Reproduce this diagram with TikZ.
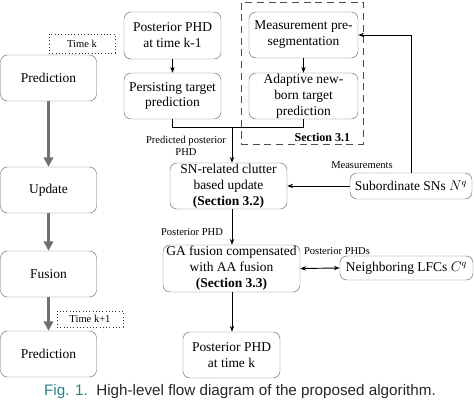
\documentclass[tikz,border=0pt]{standalone}
\usepackage{fontspec}
\setmainfont{Liberation Serif}
\newfontfamily\capfont{Liberation Sans}
\usetikzlibrary{arrows.meta, positioning, calc}
\definecolor{boxgray}{RGB}{105,105,105}
\definecolor{flowgray}{RGB}{112,112,112}
\definecolor{figteal}{RGB}{40,130,140}

\begin{document}
\begin{tikzpicture}[x=0.03cm, y=-0.03cm,
    box/.style={draw=boxgray, rounded corners=6pt, align=center, inner sep=0.5pt,
                font=\fontsize{11.5}{13.6}\selectfont},
    stagebox/.style={box, minimum width=2.88cm, minimum height=1.38cm},
    timebox/.style={draw=black!80, dotted, thick, minimum width=1.98cm, inner sep=1pt,
                    font=\fontsize{9}{10}\selectfont},
    secbox/.style={draw=black!70, thick, dash pattern=on 6pt off 4pt},
    lbl/.style={font=\fontsize{9}{10.5}\selectfont, align=center, inner sep=1pt},
    arr/.style={-{Stealth[length=5pt]}, line width=0.8pt},
    dblarr/.style={{Stealth[length=5pt]}-{Stealth[length=5pt]}, line width=0.8pt},
    bigarr/.style={-{Triangle[length=8pt,width=8pt]}, line width=2.6pt, flowgray}
  ]
    \useasboundingbox (0,0) rectangle (474,402);

    % left column: processing stages
    \node[stagebox] (predA)  at (48.5,78)  {Prediction};
    \node[stagebox] (update) at (48.5,190) {Update};
    \node[stagebox] (fusion) at (48.5,274) {Fusion};
    \node[stagebox] (predB)  at (48.5,354) {Prediction};
    \node[timebox, minimum height=0.57cm] (timek)  at (82,43.5) {Time k};
    \node[timebox, minimum height=0.48cm] (timek1) at (90,319)  {Time k+1};

    \draw[bigarr] (predA) -- (update);
    \draw[bigarr] (update) -- (fusion);
    \draw[bigarr] (fusion) -- (predB);

    % detailed flow
    \node[secbox, minimum width=3.66cm, minimum height=4.26cm] (sec) at (302,73) {};
    \node[font=\bfseries\fontsize{10.3}{12}\selectfont, anchor=south east, inner sep=0pt]
      (seclbl) at ([xshift=-0.39cm,yshift=0.08cm]sec.south east) {Section 3.1};

    \node[box, minimum width=2.91cm, minimum height=1.41cm] (postold) at (172.5,35.5) {Posterior PHD\\at time k-1};
    \node[box, minimum width=2.91cm, minimum height=1.38cm] (persist) at (172.5,96) {Persisting target\\prediction};
    \node[box, minimum width=3.27cm, minimum height=1.38cm] (meas) at (303.5,35) {Measurement pre-\\segmentation};
    \node[box, minimum width=3.27cm, minimum height=1.38cm] (adapt) at (303.5,96) {Adaptive new-\\born target\\prediction};
    \node[box, minimum width=3.51cm, minimum height=1.38cm] (snupd) at (228.5,186) {SN-related clutter\\based update\\\textbf{(Section 3.2)}};
    \node[box, minimum width=3.66cm, minimum height=0.78cm] (subsn) at (411,186) {Subordinate SNs $N^{q}$};
    \node[box, minimum width=4.11cm, minimum height=1.41cm] (gafus) at (231.5,268.5) {GA fusion compensated\\with AA fusion\\\textbf{(Section 3.3)}};
    \node[box, minimum width=3.99cm, minimum height=0.72cm] (nlfc) at (406.5,268) {Neighboring LFCs $C^{q}$};
    \node[box, minimum width=2.91cm, minimum height=1.38cm] (postk) at (231.5,355) {Posterior PHD\\at time k};
    \coordinate (merge) at (232,127);

    \draw[arr] (postold) -- (persist);
    \draw[arr] (meas) -- (adapt);
    \draw[line width=0.8pt] (persist.south) |- (merge);
    \draw[line width=0.8pt] (adapt.south) |- (merge);
    \draw[arr] (merge) -- (merge |- snupd.north);
    \draw[arr] (merge |- snupd.south) -- (merge |- gafus.north);
    \draw[arr] (merge |- gafus.south) -- (merge |- postk.north);
    \draw[arr] (subsn.west) -- (snupd.east);
    \draw[arr] (subsn.north) |- (meas.east);
    \draw[dblarr] (gafus.east) -- (nlfc.west);

    \node[lbl] (predlbl) at (186,146) {Predicted posterior\\PHD};
    \node[lbl] (postlbl) at (192,232) {Posterior PHD};
    \node[lbl] (phdslbl) at (337,251) {Posterior PHDs};
    \node[lbl] (measlbl) at (362,165) {Measurements};

    \node[font=\capfont\fontsize{13}{15}\selectfont, text=black!85] (caption) at (240,392)
      {\textcolor{figteal}{Fig. 1.}\ \ High-level flow diagram of the proposed algorithm.};
\end{tikzpicture}
\end{document}
